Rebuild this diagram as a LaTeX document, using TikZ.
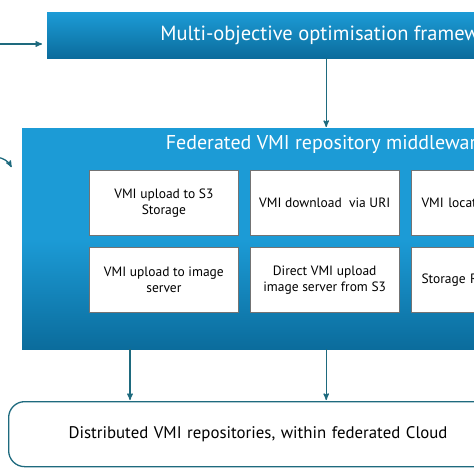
\documentclass[tikz,border=0pt]{standalone}
\usepackage{fontspec}
\setmainfont{PT Sans}
\usetikzlibrary{positioning,arrows,calc}

\definecolor{boxtop}{HTML}{1C9BD6}
\definecolor{boxbot}{HTML}{0B6C9C}
\definecolor{arrowteal}{HTML}{1E6A7E}

\tikzset{
	bluebox/.style={rectangle,anchor=north west,inner sep=0pt,top color=boxtop,bottom color=boxbot,draw=none},
	cellbox/.style={rectangle,fill=white,draw=black!55,line width=0.8pt,minimum width=149pt,minimum height=65pt,align=center,inner sep=2pt,font=\fontsize{13.5}{16}\selectfont},
	edgecell/.style={cellbox,text width=128pt,align=left},
	link/.style={->,>=stealth',line width=1.3pt,draw=arrowteal,shorten >=1pt}
}

\begin{document}
\begin{tikzpicture}[x=1pt,y=-1pt]
	\useasboundingbox (0,0) rectangle (474,474);
	\clip (0,0) rectangle (474,474);
	\node (Opt) [bluebox,minimum width=573pt,minimum height=46pt,text=white,font=\fontsize{20.5}{24}\selectfont] at (47,12) {Multi-objective optimisation framework};
	\node (MW) [bluebox,minimum width=608pt,minimum height=221pt,middle color=boxtop] at (22,128) {};
	\node (MWtitle) [below=7pt of MW.north,anchor=north,text=white,inner sep=0pt,font=\fontsize{20}{24}\selectfont] {Federated VMI repository middleware};
	\node (Upload) [cellbox,anchor=north west] at (89,170) {VMI upload to S3\\Storage};
	\node (Download) [cellbox,right=11pt of Upload] {VMI download\ \ via URI};
	\node (Locate) [edgecell,right=11pt of Download] {VMI location service};
	\node (ImgUpload) [cellbox,below=11pt of Upload] {VMI upload to image\\server};
	\node (Direct) [cellbox,below=11pt of Download] {Direct VMI upload\\image server from S3};
	\node (StoreRepo) [edgecell,below=11pt of Locate] {Storage Repository};
	\node (Repo) [rectangle,rounded corners=16pt,draw=arrowteal,line width=1.3pt,fill=white,anchor=north west,minimum height=65pt,text width=560pt,inner xsep=60pt,align=left,font=\fontsize{16.8}{20}\selectfont] at (8,401) {Distributed VMI repositories, within federated Cloud};
	% incoming arrows from outside
	\coordinate (optin) at (-5,44);
	\draw[link,shorten >=5pt] (optin) -- (optin -| Opt.west);
	\coordinate (mwin) at (-3,157);
	\draw[link] (mwin) to[bend left=25] (12,168);
	\draw[link] (Opt.south -| MW.north) -- (MW.north);
	\draw[link] ([xshift=108pt]MW.south west) -- ([xshift=108pt]MW.south west |- Repo.north);
	\draw[link] (MW.south) -- (MW.south |- Repo.north);
\end{tikzpicture}
\end{document}
